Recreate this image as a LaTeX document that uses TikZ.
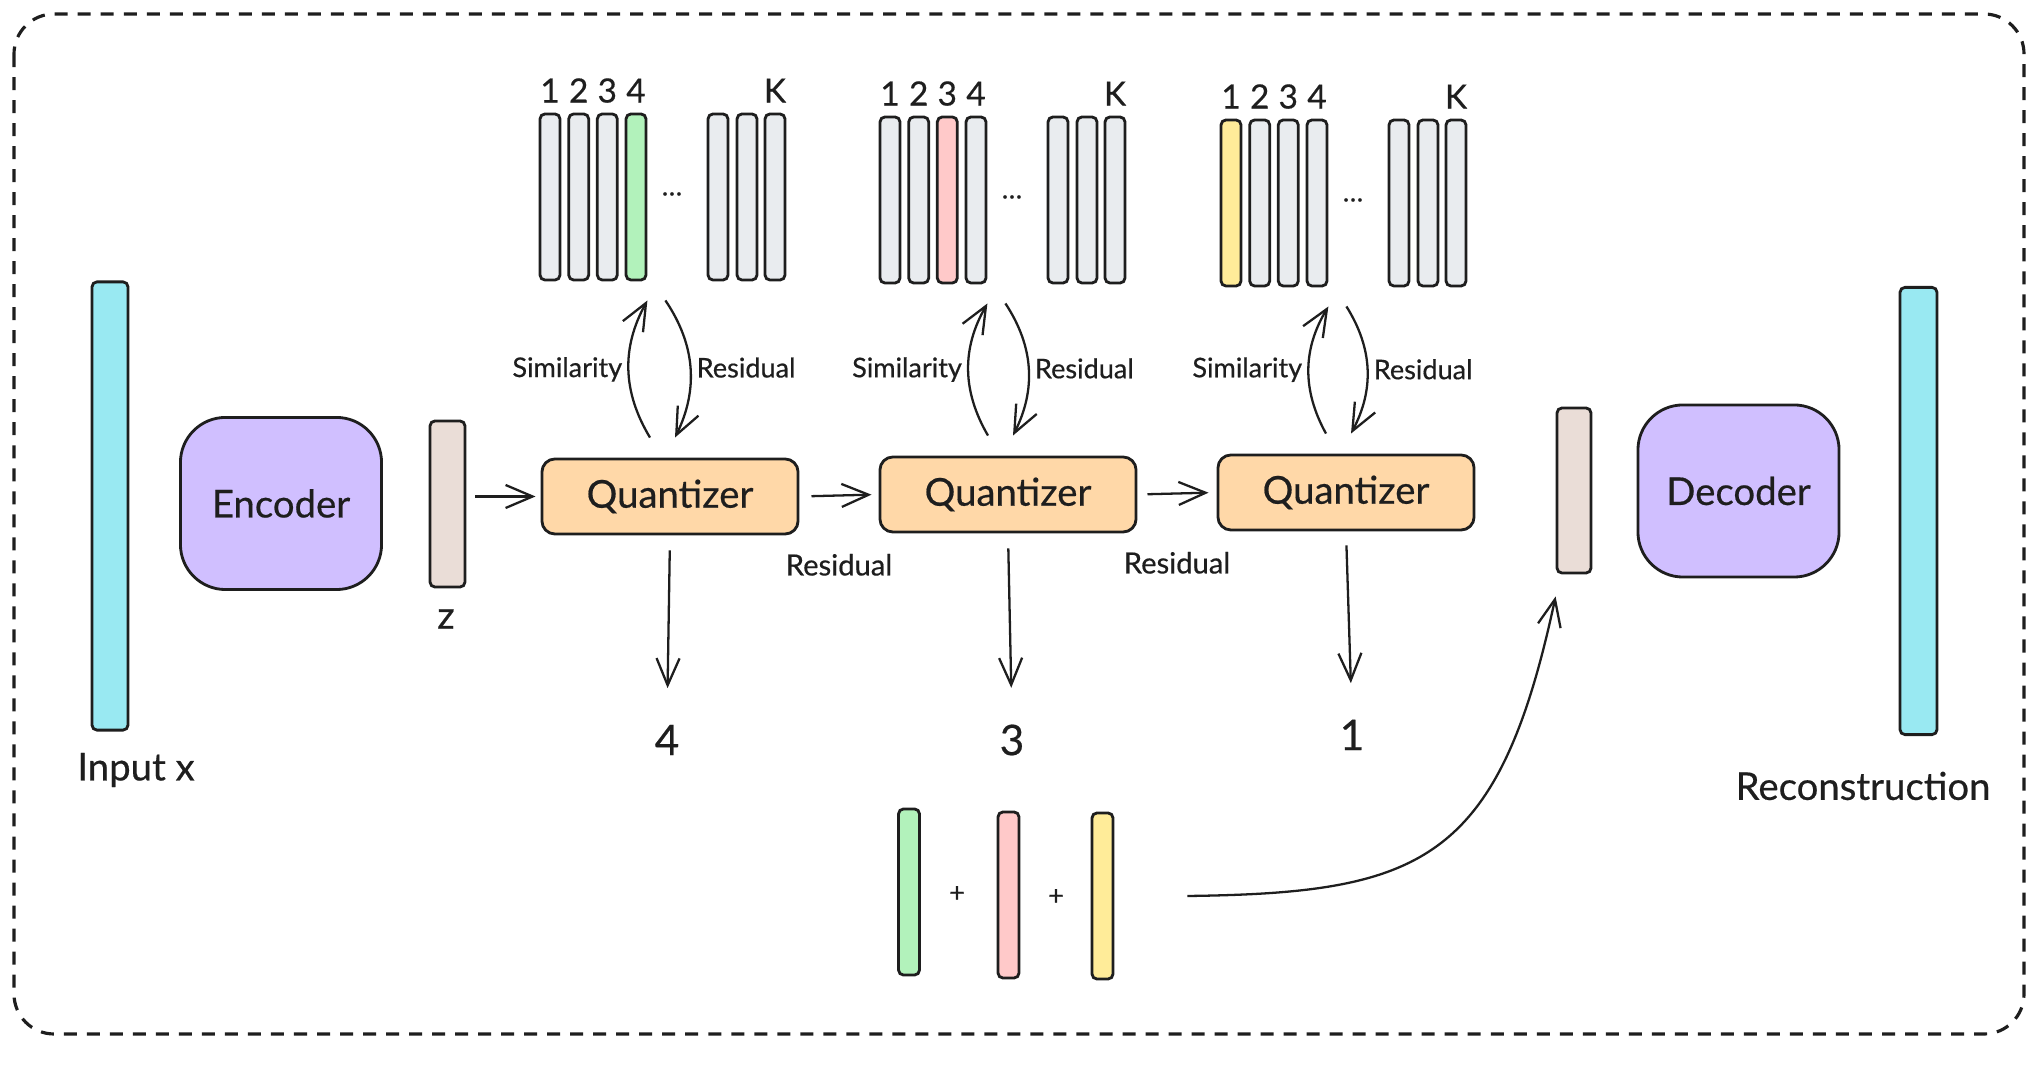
\documentclass[tikz,border=0pt]{standalone}
\usepackage{fontspec}
\setmainfont{Lato}[FakeBold=0.5]
\usetikzlibrary{arrows.meta, positioning}

\definecolor{ink}{HTML}{1E1E1E}
\definecolor{vcyan}{HTML}{99E9F2}
\definecolor{violet}{HTML}{D0BFFF}
\definecolor{orange}{HTML}{FFD8A8}
\definecolor{cbgray}{HTML}{E9ECEF}
\definecolor{cbgreen}{HTML}{B2F2BB}
\definecolor{cbred}{HTML}{FFC9C9}
\definecolor{cbyellow}{HTML}{FFEC99}
\definecolor{latent}{HTML}{EADDD7}

\tikzset{
	frame/.style={draw=ink, line width=0.9pt, dash pattern=on 0.13cm off 0.1cm, rounded corners=0.4cm},
	vec/.style={draw=ink, line width=0.8pt, rounded corners=0.05cm, inner sep=0pt},
	block/.style={draw=ink, line width=0.8pt, fill=violet, rounded corners=0.45cm,
		minimum width=2.01cm, minimum height=1.72cm, text=ink, font=\fontsize{10.9}{12}\selectfont},
	quant/.style={draw=ink, line width=0.8pt, fill=orange, rounded corners=0.13cm,
		minimum width=2.56cm, minimum height=0.75cm, text=ink, font=\fontsize{10.9}{12}\selectfont},
	txt/.style={text=ink, inner sep=0pt, font=\fontsize{10.9}{12}\selectfont},
	num/.style={text=ink, inner sep=0pt, font=\fontsize{9.5}{11}\selectfont},
	idx/.style={text=ink, inner sep=0pt, font=\fontsize{12}{14}\selectfont},
	lbl/.style={text=ink, inner sep=1.5pt, font=\fontsize{7.7}{9}\selectfont},
	arr/.style={draw=ink, line width=0.65pt, -{Straight Barb[length=0.27cm, width=0.23cm]}},
}

\begin{document}
\begin{tikzpicture}[x=0.01cm, y=-0.01cm]
	\useasboundingbox (0,0) rectangle (2036,1068);

	% outer frame
	\draw[frame] (14,14) rectangle (2024,1034);

	% encoder side
	\node[vec, fill=vcyan, minimum width=0.36cm, minimum height=4.48cm] (input) at (110,506) {};
	\node[txt] (inlabel) at (136,770) {Input x};
	\node[block] (encoder) at (281,503.5) {Encoder};
	\node[vec, fill=latent, minimum width=0.35cm, minimum height=1.66cm] (z) at (447.5,504) {};
	\node[txt] (zlabel) at (446,619) {z};

	% quantizers
	\node[quant] (q1) at (670,496.5) {Quantizer};
	\node[quant] (q2) at (1008,494.5) {Quantizer};
	\node[quant] (q3) at (1346,492.5) {Quantizer};

	\draw[arr, shorten <=0.09cm, shorten >=0.05cm] (z.east |- q1.west) -- (q1.west);
	\draw[arr, shorten <=0.12cm, shorten >=0.07cm] (q1.east) -- node[lbl, below=0.52cm, font=\fontsize{8.3}{10}\selectfont] {Residual} (q2.west);
	\draw[arr, shorten <=0.1cm, shorten >=0.08cm] (q2.east) -- node[lbl, below=0.52cm, font=\fontsize{8.3}{10}\selectfont] {Residual} (q3.west);

	% codebooks, one picked codeword each
	\foreach \cb/\cbx/\cby/\pick/\pc in {1/540/114/4/cbgreen, 2/880/117/3/cbred, 3/1221/120/1/cbyellow} {
		\foreach \i/\dx in {1/0, 2/28.7, 3/57.3, 4/86, 5/168, 6/197, 7/225} {
			\def\fc{cbgray}
			\ifnum\i=\pick \def\fc{\pc}\fi
			\node[vec, fill=\fc, minimum width=0.2cm, minimum height=1.66cm] (cb\cb-\i) at (\cbx+\dx+10,\cby+83) {};
			\ifnum\i<5
				\node[num, anchor=base] (d\cb-\i) at ([yshift=0.1cm]cb\cb-\i.north) {\i};
			\fi
		}
		\node[num, anchor=base] (k\cb) at ([yshift=0.1cm]cb\cb-7.north) {K};
		\node[lbl, inner sep=0pt] (dots\cb) at (\cbx+132,\cby+80) {…};

		\draw[arr] ([xshift=-0.2cm, yshift=0.2cm]q\cb.north) to[bend left=30]
			node[lbl, left] {Similarity} ([yshift=-0.19cm]cb\cb-4.south east);
		\draw[arr] ([xshift=0.18cm, yshift=-0.19cm]cb\cb-4.south east) to[bend left=30]
			node[lbl, right] {Residual} ([xshift=0.05cm, yshift=0.2cm]q\cb.north);
	}

	% chosen indices
	\node[idx] (idx1) at (667,740) {4};
	\node[idx] (idx2) at (1012,740) {3};
	\node[idx] (idx3) at (1352,735) {1};
	\draw[arr, shorten <=0.15cm, shorten >=0.36cm] (q1.south) -- (idx1.north);
	\draw[arr, shorten <=0.15cm, shorten >=0.36cm] (q2.south) -- (idx2.north);
	\draw[arr, shorten <=0.14cm, shorten >=0.36cm] (q3.south) -- (idx3.north);

	% sum of picked codewords
	\node[vec, fill=cbgreen, minimum width=0.21cm, minimum height=1.66cm] (pick1) at (909,892) {};
	\node[lbl] (plus1) at (957,894) {+};
	\node[vec, fill=cbred, minimum width=0.21cm, minimum height=1.66cm] (pick2) at (1008.5,895) {};
	\node[lbl] (plus2) at (1056,897) {+};
	\node[vec, fill=cbyellow, minimum width=0.21cm, minimum height=1.66cm] (pick3) at (1102.5,896) {};

	% decoder side
	\node[vec, fill=latent, minimum width=0.34cm, minimum height=1.65cm] (zq) at (1574,490.5) {};
	\node[block] (decoder) at (1738.5,491) {Decoder};
	\node[vec, fill=vcyan, minimum width=0.37cm, minimum height=4.47cm] (recon) at (1918.5,511) {};
	\node[txt] (reclabel) at (1863,786) {Reconstruction};

	\draw[arr] ([xshift=0.73cm]pick3.east) .. controls +(2.34cm,0.03cm) and +(-0.57cm,-2.66cm) .. ([yshift=-0.22cm]zq.south west);
\end{tikzpicture}
\end{document}
